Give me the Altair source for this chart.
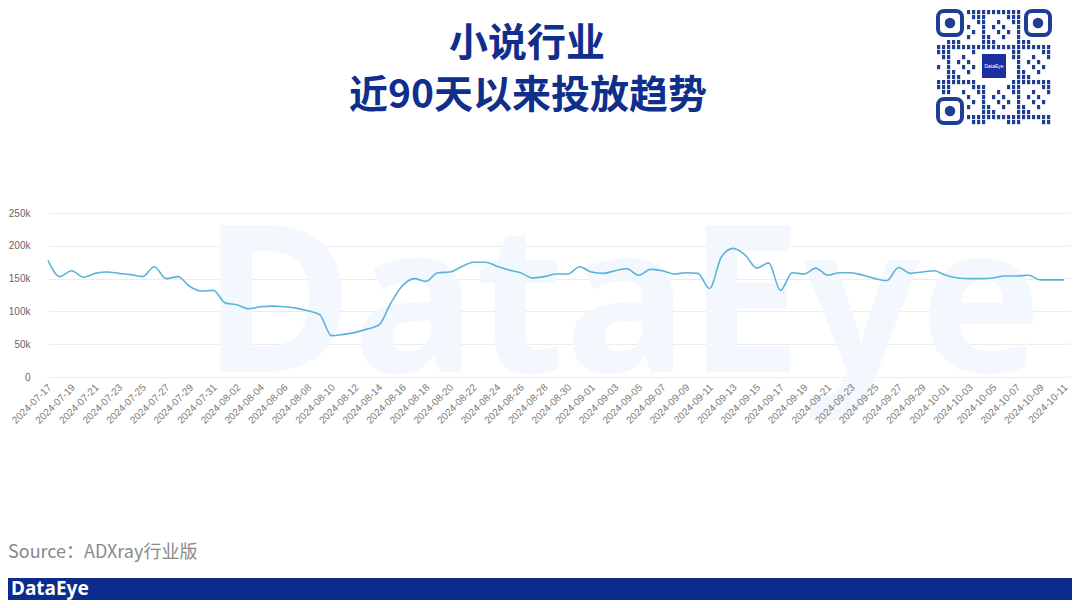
import altair as alt
import pandas as pd

# ---------------- data ----------------
dates = [d.strftime("%Y-%m-%d") for d in pd.date_range("2024-07-17", "2024-10-11", freq="D")]
values_k = [178, 153, 162, 152, 158, 160, 158, 156, 153, 168,
            150, 153, 138, 131, 132, 113, 110, 104, 107, 108,
            107, 105, 101, 95, 63, 65, 68, 73, 79, 112,
            139, 150, 146, 159, 160, 168, 175, 175, 169, 163,
            159, 151, 153, 157, 157, 168, 160, 158, 162, 165,
            155, 164, 162, 157, 159, 158, 135, 183, 196, 186,
            166, 174, 132, 159, 157, 166, 155, 159, 159, 155,
            150, 147, 167, 158, 160, 162, 155, 151, 150, 150,
            151, 154, 154, 155, 148, 148, 148]
y_ticks = [0, 50000, 100000, 150000, 200000, 250000]
x_tick_labels = dates[::2]

title_lines = ["小说行业", "近90天以来投放趋势"]
source_text = "Source：ADXray行业版"
brand = "DataEye"

df = pd.DataFrame({"date": dates, "value": [v * 1000 for v in values_k]})

# ---------------- layout (plot origin at page 48,213) ----------------
W, H = 1016, 164
OX, OY = 48, 213
YMAX = 250000
BLUE = "#102f8c"
CJK = "Noto Sans CJK SC"


def px(x):
    return x - OX


def py(y):
    return y - OY


def one():
    return pd.DataFrame({"t": [""]})


def text_layer(text, x, y, size, color, weight="normal", align="left",
               font=CJK, baseline="middle", opacity=1.0):
    return alt.Chart(pd.DataFrame({"t": [text]})).mark_text(
        fontSize=size, color=color, fontWeight=weight, align=align,
        font=font, baseline=baseline, opacity=opacity
    ).encode(x=alt.value(px(x)), y=alt.value(py(y)), text="t:N")


def rect_layer(x1, y1, x2, y2, fill, stroke=None, sw=0, r=0):
    kw = dict(fill=fill, cornerRadius=r)
    if stroke:
        kw.update(stroke=stroke, strokeWidth=sw)
    return alt.Chart(one()).mark_rect(**kw).encode(
        x=alt.value(px(x1)), x2=alt.value(px(x2)),
        y=alt.value(py(y1)), y2=alt.value(py(y2)))


# gridline extension to the right edge (the reference's plot runs off the page)
grid_ext = alt.Chart(pd.DataFrame({"v": y_ticks})).transform_calculate(
    gy=f"{H} - datum.v / {YMAX} * {H}"
).mark_rule(color="#ececec", strokeWidth=1).encode(
    x=alt.value(W), x2=alt.value(px(1072)),
    y=alt.Y("gy:Q", scale=None))

# watermark
watermark = text_layer(brand, 203, 372, 205, "#f2f8fd", weight="bold",
                       font="Noto Sans", baseline="alphabetic")

line = alt.Chart(df).mark_line(
    color="#5db2da", strokeWidth=1.6, interpolate="monotone"
).encode(
    x=alt.X("date:O", sort=dates,
            scale=alt.Scale(type="point", padding=0),
            axis=alt.Axis(values=x_tick_labels, title=None, labelAngle=-45,
                          labelAlign="right", labelBaseline="top",
                          labelFontSize=10, labelColor="#7a7a7a",
                          labelFont="Liberation Sans", labelPadding=5,
                          labelOffset=-2, zindex=1,
                          domain=False, ticks=False, grid=False,
                          labelOverlap=False)),
    y=alt.Y("value:Q", scale=alt.Scale(domain=[0, YMAX], nice=False),
            axis=alt.Axis(values=y_ticks, title=None,
                          labelExpr="datum.value == 0 ? '0' : (datum.value/1000) + 'k'",
                          labelFontSize=10, labelColor="#666666",
                          labelFont="Liberation Sans", labelPadding=18,
                          domain=False, ticks=False,
                          gridColor="#ececec", gridWidth=1)),
)

layers = [grid_ext, watermark, line]

# titles
layers.append(text_layer(title_lines[0], 527, 44, 39, BLUE, weight="bold", align="center"))
layers.append(text_layer(title_lines[1], 528, 96, 39, BLUE, weight="bold", align="center"))

# QR-like decoration
qx0, qy0, cell, n = 937, 10, 5, 23
mods = []
for i in range(n):
    for j in range(n):
        in_finder = (i < 6 and j < 6) or (i < 6 and j >= n - 6) or (i >= n - 6 and j < 6)
        in_center = 8 <= i <= 14 and 8 <= j <= 14
        if in_finder or in_center:
            continue
        if ((i * 37 + j * 91 + i * j * 13) % 7) < 3:
            mods.append({"x": px(qx0 + j * cell), "x2": px(qx0 + j * cell + 3.2),
                         "y": py(qy0 + i * cell), "y2": py(qy0 + i * cell + 4.2)})
qr = alt.Chart(pd.DataFrame(mods)).mark_rect(fill="#1d3e92").encode(
    x=alt.X("x:Q", scale=None), x2="x2:Q",
    y=alt.Y("y:Q", scale=None), y2="y2:Q")
layers.append(qr)
for (fx, fy) in [(938, 11), (1026, 11), (938, 99)]:
    layers.append(rect_layer(fx, fy, fx + 24, fy + 24, "white", stroke="#1d3e92", sw=4, r=6))
    layers.append(alt.Chart(one()).mark_circle(color="#1d3e92", opacity=1, size=110).encode(
        x=alt.value(px(fx + 12)), y=alt.value(py(fy + 12))))
layers.append(rect_layer(982, 54, 1006, 78, "#1a2fa0"))
layers.append(text_layer(brand, 994, 66, 5, "white", align="center", font="Liberation Sans"))

# footer
layers.append(text_layer(source_text, 8, 553, 18, "#8a8a8a"))
layers.append(rect_layer(8, 578, 1072, 600, "#0c2b8c"))
layers.append(text_layer(brand, 11, 589, 19, "white", weight="bold", font="Noto Sans"))

TOTAL_W, TOTAL_H = 1064, 592
chart = alt.layer(*layers).properties(
    width=W, height=H,
    padding={"left": OX - 8, "top": OY - 8, "right": TOTAL_W - (OX - 8) - W,
             "bottom": TOTAL_H - (OY - 8) - H},
    autosize=alt.AutoSizeParams(type="none"),
    background="white",
).configure_view(stroke=None)

chart.save("out.html", embed_options={"renderer": "svg", "actions": False})
